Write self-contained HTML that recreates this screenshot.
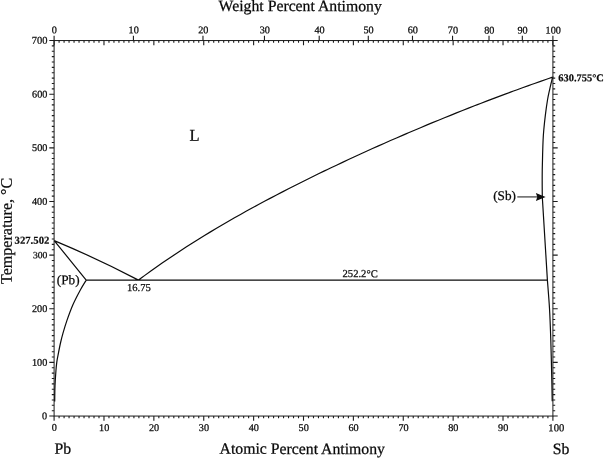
<!DOCTYPE html><html><head><meta charset="utf-8"><title>Pb-Sb Phase Diagram</title>
<style>html,body{margin:0;padding:0;background:#fff}svg{display:block}text{text-rendering:geometricPrecision;font-family:"Liberation Serif","Times New Roman",serif;fill:#0a0a0a;stroke:#0a0a0a;stroke-width:0.25px}</style></head><body>
<svg width="604" height="458" viewBox="0 0 604 458">
<rect width="604" height="458" fill="#fff"/>
<rect x="54.1" y="40.55" width="498.80" height="375.50" fill="none" stroke="#1c1c1c" stroke-width="1"/>
<path d="M54.10 416.05v4.8 M54.10 40.55v4.8 M59.09 416.05v2.3 M59.09 40.55v2.3 M64.08 416.05v2.3 M64.08 40.55v2.3 M69.06 416.05v2.3 M69.06 40.55v2.3 M74.05 416.05v2.3 M74.05 40.55v2.3 M79.04 416.05v2.3 M79.04 40.55v2.3 M84.03 416.05v2.3 M84.03 40.55v2.3 M89.02 416.05v2.3 M89.02 40.55v2.3 M94.00 416.05v2.3 M94.00 40.55v2.3 M98.99 416.05v2.3 M98.99 40.55v2.3 M103.98 416.05v4.8 M103.98 40.55v4.8 M108.97 416.05v2.3 M108.97 40.55v2.3 M113.96 416.05v2.3 M113.96 40.55v2.3 M118.94 416.05v2.3 M118.94 40.55v2.3 M123.93 416.05v2.3 M123.93 40.55v2.3 M128.92 416.05v2.3 M128.92 40.55v2.3 M133.91 416.05v2.3 M133.91 40.55v2.3 M138.90 416.05v2.3 M138.90 40.55v2.3 M143.88 416.05v2.3 M143.88 40.55v2.3 M148.87 416.05v2.3 M148.87 40.55v2.3 M153.86 416.05v4.8 M153.86 40.55v4.8 M158.85 416.05v2.3 M158.85 40.55v2.3 M163.84 416.05v2.3 M163.84 40.55v2.3 M168.82 416.05v2.3 M168.82 40.55v2.3 M173.81 416.05v2.3 M173.81 40.55v2.3 M178.80 416.05v2.3 M178.80 40.55v2.3 M183.79 416.05v2.3 M183.79 40.55v2.3 M188.78 416.05v2.3 M188.78 40.55v2.3 M193.76 416.05v2.3 M193.76 40.55v2.3 M198.75 416.05v2.3 M198.75 40.55v2.3 M203.74 416.05v4.8 M203.74 40.55v4.8 M208.73 416.05v2.3 M208.73 40.55v2.3 M213.72 416.05v2.3 M213.72 40.55v2.3 M218.70 416.05v2.3 M218.70 40.55v2.3 M223.69 416.05v2.3 M223.69 40.55v2.3 M228.68 416.05v2.3 M228.68 40.55v2.3 M233.67 416.05v2.3 M233.67 40.55v2.3 M238.66 416.05v2.3 M238.66 40.55v2.3 M243.64 416.05v2.3 M243.64 40.55v2.3 M248.63 416.05v2.3 M248.63 40.55v2.3 M253.62 416.05v4.8 M253.62 40.55v4.8 M258.61 416.05v2.3 M258.61 40.55v2.3 M263.60 416.05v2.3 M263.60 40.55v2.3 M268.58 416.05v2.3 M268.58 40.55v2.3 M273.57 416.05v2.3 M273.57 40.55v2.3 M278.56 416.05v2.3 M278.56 40.55v2.3 M283.55 416.05v2.3 M283.55 40.55v2.3 M288.54 416.05v2.3 M288.54 40.55v2.3 M293.52 416.05v2.3 M293.52 40.55v2.3 M298.51 416.05v2.3 M298.51 40.55v2.3 M303.50 416.05v4.8 M303.50 40.55v4.8 M308.49 416.05v2.3 M308.49 40.55v2.3 M313.48 416.05v2.3 M313.48 40.55v2.3 M318.46 416.05v2.3 M318.46 40.55v2.3 M323.45 416.05v2.3 M323.45 40.55v2.3 M328.44 416.05v2.3 M328.44 40.55v2.3 M333.43 416.05v2.3 M333.43 40.55v2.3 M338.42 416.05v2.3 M338.42 40.55v2.3 M343.40 416.05v2.3 M343.40 40.55v2.3 M348.39 416.05v2.3 M348.39 40.55v2.3 M353.38 416.05v4.8 M353.38 40.55v4.8 M358.37 416.05v2.3 M358.37 40.55v2.3 M363.36 416.05v2.3 M363.36 40.55v2.3 M368.34 416.05v2.3 M368.34 40.55v2.3 M373.33 416.05v2.3 M373.33 40.55v2.3 M378.32 416.05v2.3 M378.32 40.55v2.3 M383.31 416.05v2.3 M383.31 40.55v2.3 M388.30 416.05v2.3 M388.30 40.55v2.3 M393.28 416.05v2.3 M393.28 40.55v2.3 M398.27 416.05v2.3 M398.27 40.55v2.3 M403.26 416.05v4.8 M403.26 40.55v4.8 M408.25 416.05v2.3 M408.25 40.55v2.3 M413.24 416.05v2.3 M413.24 40.55v2.3 M418.22 416.05v2.3 M418.22 40.55v2.3 M423.21 416.05v2.3 M423.21 40.55v2.3 M428.20 416.05v2.3 M428.20 40.55v2.3 M433.19 416.05v2.3 M433.19 40.55v2.3 M438.18 416.05v2.3 M438.18 40.55v2.3 M443.16 416.05v2.3 M443.16 40.55v2.3 M448.15 416.05v2.3 M448.15 40.55v2.3 M453.14 416.05v4.8 M453.14 40.55v4.8 M458.13 416.05v2.3 M458.13 40.55v2.3 M463.12 416.05v2.3 M463.12 40.55v2.3 M468.10 416.05v2.3 M468.10 40.55v2.3 M473.09 416.05v2.3 M473.09 40.55v2.3 M478.08 416.05v2.3 M478.08 40.55v2.3 M483.07 416.05v2.3 M483.07 40.55v2.3 M488.06 416.05v2.3 M488.06 40.55v2.3 M493.04 416.05v2.3 M493.04 40.55v2.3 M498.03 416.05v2.3 M498.03 40.55v2.3 M503.02 416.05v4.8 M503.02 40.55v4.8 M508.01 416.05v2.3 M508.01 40.55v2.3 M513.00 416.05v2.3 M513.00 40.55v2.3 M517.98 416.05v2.3 M517.98 40.55v2.3 M522.97 416.05v2.3 M522.97 40.55v2.3 M527.96 416.05v2.3 M527.96 40.55v2.3 M532.95 416.05v2.3 M532.95 40.55v2.3 M537.94 416.05v2.3 M537.94 40.55v2.3 M542.92 416.05v2.3 M542.92 40.55v2.3 M547.91 416.05v2.3 M547.91 40.55v2.3 M552.90 416.05v4.8 M552.90 40.55v4.8 M54.1 416.05h-4.8 M552.9 416.05h4.8 M54.1 410.69h-2.3 M552.9 410.69h2.3 M54.1 405.32h-2.3 M552.9 405.32h2.3 M54.1 399.96h-2.3 M552.9 399.96h2.3 M54.1 394.59h-2.3 M552.9 394.59h2.3 M54.1 389.23h-2.3 M552.9 389.23h2.3 M54.1 383.86h-2.3 M552.9 383.86h2.3 M54.1 378.50h-2.3 M552.9 378.50h2.3 M54.1 373.14h-2.3 M552.9 373.14h2.3 M54.1 367.77h-2.3 M552.9 367.77h2.3 M54.1 362.41h-4.8 M552.9 362.41h4.8 M54.1 357.04h-2.3 M552.9 357.04h2.3 M54.1 351.68h-2.3 M552.9 351.68h2.3 M54.1 346.31h-2.3 M552.9 346.31h2.3 M54.1 340.95h-2.3 M552.9 340.95h2.3 M54.1 335.59h-2.3 M552.9 335.59h2.3 M54.1 330.22h-2.3 M552.9 330.22h2.3 M54.1 324.86h-2.3 M552.9 324.86h2.3 M54.1 319.49h-2.3 M552.9 319.49h2.3 M54.1 314.13h-2.3 M552.9 314.13h2.3 M54.1 308.76h-4.8 M552.9 308.76h4.8 M54.1 303.40h-2.3 M552.9 303.40h2.3 M54.1 298.04h-2.3 M552.9 298.04h2.3 M54.1 292.67h-2.3 M552.9 292.67h2.3 M54.1 287.31h-2.3 M552.9 287.31h2.3 M54.1 281.94h-2.3 M552.9 281.94h2.3 M54.1 276.58h-2.3 M552.9 276.58h2.3 M54.1 271.21h-2.3 M552.9 271.21h2.3 M54.1 265.85h-2.3 M552.9 265.85h2.3 M54.1 260.49h-2.3 M552.9 260.49h2.3 M54.1 255.12h-4.8 M552.9 255.12h4.8 M54.1 249.76h-2.3 M552.9 249.76h2.3 M54.1 244.39h-2.3 M552.9 244.39h2.3 M54.1 239.03h-2.3 M552.9 239.03h2.3 M54.1 233.66h-2.3 M552.9 233.66h2.3 M54.1 228.30h-2.3 M552.9 228.30h2.3 M54.1 222.94h-2.3 M552.9 222.94h2.3 M54.1 217.57h-2.3 M552.9 217.57h2.3 M54.1 212.21h-2.3 M552.9 212.21h2.3 M54.1 206.84h-2.3 M552.9 206.84h2.3 M54.1 201.48h-4.8 M552.9 201.48h4.8 M54.1 196.11h-2.3 M552.9 196.11h2.3 M54.1 190.75h-2.3 M552.9 190.75h2.3 M54.1 185.39h-2.3 M552.9 185.39h2.3 M54.1 180.02h-2.3 M552.9 180.02h2.3 M54.1 174.66h-2.3 M552.9 174.66h2.3 M54.1 169.29h-2.3 M552.9 169.29h2.3 M54.1 163.93h-2.3 M552.9 163.93h2.3 M54.1 158.56h-2.3 M552.9 158.56h2.3 M54.1 153.20h-2.3 M552.9 153.20h2.3 M54.1 147.84h-4.8 M552.9 147.84h4.8 M54.1 142.47h-2.3 M552.9 142.47h2.3 M54.1 137.11h-2.3 M552.9 137.11h2.3 M54.1 131.74h-2.3 M552.9 131.74h2.3 M54.1 126.38h-2.3 M552.9 126.38h2.3 M54.1 121.01h-2.3 M552.9 121.01h2.3 M54.1 115.65h-2.3 M552.9 115.65h2.3 M54.1 110.29h-2.3 M552.9 110.29h2.3 M54.1 104.92h-2.3 M552.9 104.92h2.3 M54.1 99.56h-2.3 M552.9 99.56h2.3 M54.1 94.19h-4.8 M552.9 94.19h4.8 M54.1 88.83h-2.3 M552.9 88.83h2.3 M54.1 83.46h-2.3 M552.9 83.46h2.3 M54.1 78.10h-2.3 M552.9 78.10h2.3 M54.1 72.74h-2.3 M552.9 72.74h2.3 M54.1 67.37h-2.3 M552.9 67.37h2.3 M54.1 62.01h-2.3 M552.9 62.01h2.3 M54.1 56.64h-2.3 M552.9 56.64h2.3 M54.1 51.28h-2.3 M552.9 51.28h2.3 M54.1 45.91h-2.3 M552.9 45.91h2.3 M54.1 40.55h-4.8 M552.9 40.55h4.8 M54.10 40.55v-4.9 M133.42 40.55v-4.9 M202.97 40.55v-4.9 M264.46 40.55v-4.9 M319.21 40.55v-4.9 M368.28 40.55v-4.9 M412.49 40.55v-4.9 M452.55 40.55v-4.9 M489.01 40.55v-4.9 M522.33 40.55v-4.9 M552.90 40.55v-4.9" stroke="#1c1c1c" stroke-width="1.1" fill="none"/>
<path d="M86.2 280.1H547.4 M54.2 240.6Q96.3 258.1 138.5 280.1 M54.2 240.6L86.2 280.1 M86.20 280.10 C85.27 281.67 82.82 285.38 80.60 289.50 C78.38 293.62 75.20 299.57 72.90 304.80 C70.60 310.03 68.45 316.18 66.80 320.90 C65.15 325.62 64.03 329.50 63.00 333.10 C61.97 336.70 61.43 338.80 60.60 342.50 C59.77 346.20 58.63 352.03 58.00 355.30 C57.37 358.57 57.14 359.57 56.80 362.10 C56.46 364.63 56.25 366.55 55.95 370.50 C55.65 374.45 55.21 380.65 55.00 385.80 C54.79 390.95 54.75 398.80 54.70 401.40 M138.50 280.10 C139.50 279.36 142.50 277.11 144.50 275.64 C146.50 274.17 148.50 272.72 150.50 271.28 C152.50 269.84 154.50 268.41 156.50 267.00 C158.50 265.59 160.50 264.20 162.50 262.81 C164.50 261.43 166.50 260.06 168.50 258.70 C170.50 257.34 172.50 256.00 174.50 254.67 C176.50 253.33 178.50 252.01 180.50 250.70 C182.50 249.39 184.50 248.10 186.50 246.81 C188.50 245.52 190.50 244.25 192.50 242.99 C194.50 241.72 196.50 240.47 198.50 239.22 C200.50 237.98 202.50 236.75 204.50 235.52 C206.50 234.30 208.50 233.08 210.50 231.88 C212.50 230.67 214.50 229.48 216.50 228.29 C218.50 227.10 220.50 225.93 222.50 224.76 C224.50 223.59 226.50 222.43 228.50 221.27 C230.50 220.12 232.50 218.97 234.50 217.84 C236.50 216.70 238.50 215.57 240.50 214.45 C242.50 213.32 244.50 212.21 246.50 211.10 C248.50 209.99 250.50 208.89 252.50 207.80 C254.50 206.70 256.50 205.62 258.50 204.54 C260.50 203.45 262.50 202.38 264.50 201.31 C266.50 200.24 268.50 199.18 270.50 198.13 C272.50 197.07 274.50 196.02 276.50 194.97 C278.50 193.93 280.50 192.89 282.50 191.86 C284.50 190.83 286.50 189.80 288.50 188.78 C290.50 187.75 292.50 186.74 294.50 185.73 C296.50 184.71 298.50 183.71 300.50 182.70 C302.50 181.70 304.50 180.71 306.50 179.71 C308.50 178.72 310.50 177.74 312.50 176.75 C314.50 175.77 316.50 174.79 318.50 173.82 C320.50 172.85 322.50 171.88 324.50 170.91 C326.50 169.95 328.50 168.99 330.50 168.03 C332.50 167.08 334.50 166.13 336.50 165.18 C338.50 164.23 340.50 163.29 342.50 162.35 C344.50 161.41 346.50 160.48 348.50 159.55 C350.50 158.62 352.50 157.69 354.50 156.77 C356.50 155.84 358.50 154.92 360.50 154.01 C362.50 153.09 364.50 152.18 366.50 151.28 C368.50 150.37 370.50 149.47 372.50 148.57 C374.50 147.67 376.50 146.77 378.50 145.88 C380.50 144.99 382.50 144.10 384.50 143.21 C386.50 142.33 388.50 141.45 390.50 140.57 C392.50 139.69 394.50 138.82 396.50 137.95 C398.50 137.08 400.50 136.21 402.50 135.35 C404.50 134.48 406.50 133.63 408.50 132.77 C410.50 131.91 412.50 131.06 414.50 130.21 C416.50 129.36 418.50 128.52 420.50 127.68 C422.50 126.84 424.50 126.00 426.50 125.16 C428.50 124.33 430.50 123.50 432.50 122.67 C434.50 121.84 436.50 121.02 438.50 120.20 C440.50 119.38 442.50 118.56 444.50 117.75 C446.50 116.93 448.50 116.12 450.50 115.32 C452.50 114.51 454.50 113.71 456.50 112.91 C458.50 112.11 460.50 111.31 462.50 110.52 C464.50 109.73 466.50 108.94 468.50 108.16 C470.50 107.37 472.50 106.59 474.50 105.81 C476.50 105.03 478.50 104.26 480.50 103.48 C482.50 102.71 484.50 101.94 486.50 101.18 C488.50 100.41 490.50 99.65 492.50 98.90 C494.50 98.14 496.50 97.38 498.50 96.63 C500.50 95.88 502.50 95.13 504.50 94.39 C506.50 93.64 508.50 92.90 510.50 92.16 C512.50 91.43 514.50 90.69 516.50 89.96 C518.50 89.23 520.50 88.50 522.50 87.78 C524.50 87.05 526.50 86.33 528.50 85.61 C530.50 84.89 532.50 84.18 534.50 83.46 C536.50 82.75 538.50 82.04 540.50 81.34 C542.50 80.63 544.50 79.93 546.50 79.23 C548.50 78.53 551.48 77.49 552.50 77.13 C553.52 76.78 552.58 77.11 552.60 77.10 M552.60 77.10 C552.10 79.22 550.45 85.98 549.60 89.80 C548.75 93.62 548.20 95.82 547.50 100.00 C546.80 104.18 546.02 109.93 545.40 114.90 C544.78 119.87 544.18 125.62 543.80 129.80 C543.42 133.98 543.30 135.80 543.10 140.00 C542.90 144.20 542.74 150.00 542.60 155.00 C542.46 160.00 542.32 165.00 542.25 170.00 C542.18 175.00 542.19 180.50 542.20 185.00 C542.21 189.50 542.28 195.00 542.30 197.00 L547.4 280.1 M547.40 280.10 C547.75 284.83 548.93 298.52 549.50 308.50 C550.07 318.48 550.40 327.47 550.80 340.00 C551.20 352.53 551.67 373.50 551.90 383.70 C552.13 393.90 552.15 398.28 552.20 401.20" stroke="#0c0c0c" stroke-width="1.2" fill="none" stroke-linejoin="round"/>
<path d="M517.3 196.9H539.5" stroke="#555" stroke-width="1.4" fill="none"/>
<path d="M545.6 196.9L535.9 192.9L537.3 196.9L535.9 200.9Z" fill="#0c0c0c"/>
<g transform="rotate(0.03 302 229)">
<text x="300.1" y="11.1" font-size="15.75" text-anchor="middle">Weight Percent Antimony</text>
<text x="302.4" y="453.9" font-size="15.75" text-anchor="middle">Atomic Percent Antimony</text>
<text x="54.6" y="453.8" font-size="15.75" text-anchor="start">Pb</text>
<text x="552.9" y="453.8" font-size="15.75" text-anchor="start">Sb</text>
<text x="54.3" y="33.3" font-size="10.2" text-anchor="middle">0</text>
<text x="133.6" y="33.3" font-size="10.2" text-anchor="middle">10</text>
<text x="203.2" y="33.3" font-size="10.2" text-anchor="middle">20</text>
<text x="264.7" y="33.3" font-size="10.2" text-anchor="middle">30</text>
<text x="319.4" y="33.3" font-size="10.2" text-anchor="middle">40</text>
<text x="368.5" y="33.3" font-size="10.2" text-anchor="middle">50</text>
<text x="412.7" y="33.3" font-size="10.2" text-anchor="middle">60</text>
<text x="452.8" y="33.3" font-size="10.2" text-anchor="middle">70</text>
<text x="489.2" y="33.3" font-size="10.2" text-anchor="middle">80</text>
<text x="522.5" y="33.3" font-size="10.2" text-anchor="middle">90</text>
<text x="553.1" y="33.3" font-size="10.2" text-anchor="middle">100</text>
<text x="54.4" y="431.0" font-size="10.2" text-anchor="middle">0</text>
<text x="104.3" y="431.0" font-size="10.2" text-anchor="middle">10</text>
<text x="154.2" y="431.0" font-size="10.2" text-anchor="middle">20</text>
<text x="204.0" y="431.0" font-size="10.2" text-anchor="middle">30</text>
<text x="253.9" y="431.0" font-size="10.2" text-anchor="middle">40</text>
<text x="303.8" y="431.0" font-size="10.2" text-anchor="middle">50</text>
<text x="353.7" y="431.0" font-size="10.2" text-anchor="middle">60</text>
<text x="403.6" y="431.0" font-size="10.2" text-anchor="middle">70</text>
<text x="453.4" y="431.0" font-size="10.2" text-anchor="middle">80</text>
<text x="503.3" y="431.0" font-size="10.2" text-anchor="middle">90</text>
<text x="556.4" y="431.0" font-size="10.6" text-anchor="middle">100</text>
<text x="47.3" y="419.4" font-size="10.2" text-anchor="end">0</text>
<text x="47.3" y="365.8" font-size="10.2" text-anchor="end">100</text>
<text x="47.3" y="312.2" font-size="10.2" text-anchor="end">200</text>
<text x="47.3" y="258.5" font-size="9.6" text-anchor="end">300</text>
<text x="47.3" y="204.9" font-size="10.2" text-anchor="end">400</text>
<text x="47.3" y="151.2" font-size="10.2" text-anchor="end">500</text>
<text x="47.3" y="97.6" font-size="10.2" text-anchor="end">600</text>
<text x="47.3" y="44.0" font-size="10.5" text-anchor="end">700</text>
<text x="189.4" y="140.8" font-size="16.5" text-anchor="start">L</text>
<text x="56.9" y="284.3" font-size="13.2" text-anchor="start">(Pb)</text>
<text x="493.2" y="199.8" font-size="13.2" text-anchor="start">(Sb)</text>
<text x="14.6" y="243.9" font-size="10.7" text-anchor="start" font-weight="bold" style="stroke-width:0.18px">327.502</text>
<text x="558.2" y="81.1" font-size="10.45" text-anchor="start" font-weight="bold" style="stroke-width:0.18px">630.755°C</text>
<text x="127.0" y="291.0" font-size="10.6" text-anchor="start">16.75</text>
<text x="342.6" y="277.1" font-size="10.6" text-anchor="start">252.2°C</text>
<text transform="translate(11.7,284.2) rotate(-90)" font-size="16.1" text-anchor="start">Temperature, °C</text>
</g>
</svg></body></html>
